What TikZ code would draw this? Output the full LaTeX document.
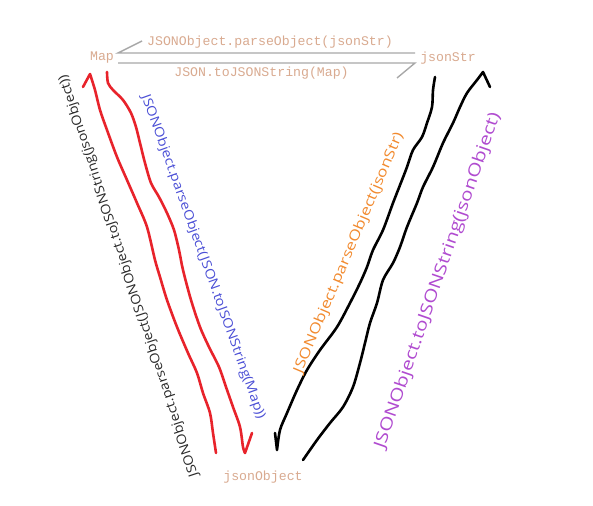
\documentclass[tikz,border=0pt]{standalone}
\usepackage{fontspec}
\setmainfont{Liberation Mono}
\newfontfamily\handfont{Open Sans}
\usetikzlibrary{calc}
\definecolor{tan}{HTML}{D9AA90}
\definecolor{grayline}{HTML}{A8A8A8}
\definecolor{redpen}{HTML}{E8232B}
\definecolor{bluetxt}{HTML}{4B4FD6}
\definecolor{orangetxt}{HTML}{F28A2E}
\definecolor{purpletxt}{HTML}{B04BD0}
\definecolor{blacktxt}{HTML}{2A2A2A}
\tikzset{
  monolabel/.style={text=tan, inner sep=0pt, font=\fontsize{13.2}{14}\selectfont},
  handlabel/.style={inner sep=0pt},
  grayarrow/.style={draw=grayline, line width=1.4pt},
  redstroke/.style={draw=redpen, line width=2.6pt, line cap=round, line join=round},
  blackstroke/.style={draw=black, line width=2.6pt, line cap=round, line join=round},
}
\newcommand{\handtext}[3]{\resizebox{#1}{\height}{\handfont\fontsize{#2}{#2}\selectfont #3}}
\begin{document}
\begin{tikzpicture}[x=1pt,y=-1pt]
\useasboundingbox (0,0) rectangle (593,505);
\fill[white] (0,0) rectangle (593,505);

% nodes
\node[monolabel] (map) at (102,58) {Map};
\node[monolabel] (jsonstr) at (448,58) {jsonStr};
\node[monolabel] (jsonobj) at (263,477) {jsonObject};

% gray arrows between Map and jsonStr
\coordinate (t1) at (118,53);
\coordinate (t2) at (415,53);
\coordinate (b1) at (118,63);
\coordinate (b2) at (415,63);
\draw[grayarrow] (t2) -- (t1) -- (142,41);
\draw[grayarrow] (b1) -- (b2) -- (397,78);
\node[monolabel] (toplab) at (270,42) {JSONObject.parseObject(jsonStr)};
\node[monolabel] (botlab) at (261.5,73) {JSON.toJSONString(Map)};

% left red (up to Map)
\draw[redstroke] plot[smooth, tension=0.5] coordinates {(216,453) (213,433) (210,413) (203,393) (197,373) (188,353) (177,327) (167,300) (160,277) (155,260) (147,227) (137,203) (127,180) (117,157) (107,130) (100,110) (95,90) (90,74)} -- (83,87);

% right red (down to jsonObject)
\draw[redstroke] plot[smooth, tension=0.5] coordinates {(107,72) (108,83) (113,90) (123,100) (131,113) (136,127) (140,143) (145,163) (151,183) (159,197) (167,213) (174,230) (179,250) (183,270) (191,300) (200,327) (209,347) (219,367) (226,387) (233,407) (240,427) (243,447) (245,453)} -- (252,433);

% left black (down to jsonObject)
\draw[blackstroke] plot[smooth, tension=0.5] coordinates {(435,77) (433,90) (432,107) (427,123) (422,137) (413,150) (407,167) (402,180) (393,203) (383,230) (373,250) (367,267) (360,283) (350,303) (337,327) (320,350) (307,370) (297,390) (287,413) (280,430) (277,450)} -- (275,433);

% right black (up to jsonStr)
\draw[blackstroke] plot[smooth, tension=0.5] coordinates {(303,460) (317,440) (330,423) (343,407) (353,387) (360,363) (365,343) (370,323) (377,303) (383,280) (393,263) (400,247) (407,227) (417,203) (423,187) (433,167) (443,143) (453,123) (460,107) (467,93) (477,80) (483,72)} -- (490,87);

% rotated labels
\node[handlabel, text=blacktxt, rotate=108.2] (lblack) at (129,276)
  {\handtext{422pt}{13}{JSONObject.parseObject(JSONObject.toJSONString(jsonObject))}};
\node[handlabel, text=bluetxt, rotate=-70.2] (lblue) at (203,257)
  {\handtext{344pt}{13}{JSONObject.parseObject(JSON.toJSONString(Map))}};
\node[handlabel, text=orangetxt, rotate=67] (lorange) at (349,253)
  {\handtext{260pt}{14}{JSONObject.parseObject(jsonStr)}};
\node[handlabel, text=purpletxt, rotate=70.9] (lpurple) at (438,281)
  {\handtext{354pt}{16.5}{JSONObject.toJSONString(jsonObject)}};
\end{tikzpicture}
\end{document}
